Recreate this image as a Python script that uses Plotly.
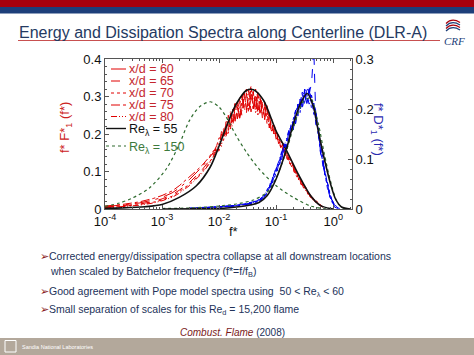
import plotly.graph_objects as go

# ---------------- data ----------------
# scaled frequency f* for the measured energy spectra (left axis, red)
F_RED = [1e-4, 2e-4, 4e-4, 7e-4, 1e-3, 1.5e-3, 2e-3, 3e-3, 4e-3, 5e-3, 6.5e-3, 8e-3,
         0.0100, 0.0110, 0.0120, 0.0132, 0.0145, 0.0158, 0.0174, 0.0191, 0.0209, 0.0229,
         0.0251, 0.0275, 0.0302, 0.0331, 0.0363, 0.0398, 0.0437, 0.0479, 0.0525, 0.0575,
         0.0631, 0.0692, 0.0759, 0.0832, 0.0912,
         0.100, 0.110, 0.120, 0.132, 0.145, 0.158, 0.174, 0.191, 0.209, 0.229, 0.251,
         0.275, 0.302, 0.331, 0.363, 0.398, 0.437, 0.479,
         0.55, 0.65]

R60 = [0.006, 0.010, 0.016, 0.024, 0.031, 0.043, 0.056, 0.078, 0.097, 0.112, 0.133, 0.152,
       .182, .174, .210, .198, .240, .220, .268, .234, .280, .242, .303, .263, .310, .255, .309,
       .267, .320, .256, .294, .246, .283, .228, .251, .205, .222,
       .186, .196, .164, .175, .144, .150, .119, .124, .097, .101, .076, .077, .056, .057, .039,
       .039, .025, .025,
       .013, .006]
R65 = [0.005, 0.008, 0.013, 0.020, 0.027, 0.038, 0.050, 0.070, 0.090, 0.104, 0.126, 0.148,
       .160, .200, .189, .228, .205, .256, .233, .280, .240, .297, .248, .313, .262, .317, .259,
       .317, .267, .306, .246, .288, .243, .270, .216, .238, .200,
       .210, .176, .185, .154, .162, .132, .137, .109, .112, .087, .089, .065, .066, .048, .047,
       .032, .031, .020,
       .012, .005]
R70 = [0.004, 0.007, 0.012, 0.018, 0.024, 0.034, 0.046, 0.066, 0.084, 0.099, 0.120, 0.142,
       .190, .187, .183, .233, .230, .212, .261, .282, .245, .277, .308, .268, .257, .305, .327,
       .272, .295, .311, .256, .280, .286, .236, .256, .215, .225,
       .193, .198, .164, .169, .162, .128, .132, .126, .096, .098, .089, .065, .065, .057, .039,
       .038, .030, .019,
       .014, .008]
R75 = [0.008, 0.012, 0.019, 0.028, 0.036, 0.048, 0.062, 0.084, 0.102, 0.116, 0.136, 0.156,
       .155, .207, .200, .190, .250, .227, .221, .278, .272, .239, .293, .310, .264, .275, .323,
       .263, .300, .251, .301, .276, .238, .278, .226, .208, .228,
       .206, .174, .180, .173, .142, .145, .120, .125, .108, .086, .088, .076, .056, .055, .047,
       .031, .030, .025,
       .015, .007]
R80 = [0.003, 0.006, 0.010, 0.016, 0.022, 0.031, 0.042, 0.062, 0.080, 0.095, 0.117, 0.140,
       .175, .167, .217, .203, .202, .260, .231, .267, .285, .247, .261, .303, .320, .263, .297,
       .313, .255, .293, .298, .242, .273, .256, .218, .243, .198,
       .207, .190, .164, .171, .146, .151, .123, .110, .112, .097, .076, .076, .065, .048, .046,
       .037, .025, .024,
       .012, .006]

# scaled frequency f* for the measured dissipation spectra (right axis, blue)
F_BLUE = [0.003, 0.005, 0.008, 0.012, 0.018, 0.025, 0.035, 0.045,
          0.0500, 0.0550, 0.0603, 0.0661, 0.0724, 0.0794, 0.0871, 0.0955, 0.105, 0.115,
          0.126, 0.138, 0.151, 0.166, 0.182, 0.200, 0.219, 0.240, 0.263, 0.288, 0.316,
          0.347, 0.380, 0.417, 0.457, 0.501, 0.550, 0.603, 0.661, 0.724, 0.794, 0.871,
          0.955, 1.05,
          1.15, 1.30]

B60 = [.001, .002, .004, .005, .007, .009, .013, .016,
       .019, .017, .028, .027, .043, .043, .064, .065, .089, .089, .115, .113, .142, .137, .169,
       .160, .198, .185, .220, .200, .236, .210, .240, .200, .212, .170, .160, .112, .099, .062,
       .051, .024, .018, .005,
       .003, .001]
B65 = [.000, .002, .003, .004, .006, .008, .010, .013,
       .014, .022, .021, .034, .034, .052, .053, .077, .076, .103, .099, .130, .122, .157, .145,
       .185, .170, .210, .193, .232, .205, .245, .232, .250, .320, .168, .162, .110, .100, .061,
       .052, .024, .018, .005,
       .002, .000]
B70 = [.002, .003, .003, .005, .007, .009, .012, .015,
       .017, .023, .022, .032, .044, .044, .062, .078, .078, .098, .117, .115, .138, .157, .149,
       .180, .196, .187, .212, .234, .213, .238, .244, .208, .211, .195, .144, .132, .102, .064,
       .054, .034, .013, .011,
       .004, .001]
B75 = [.001, .001, .003, .004, .005, .008, .011, .014,
       .015, .021, .027, .028, .042, .049, .054, .076, .086, .089, .115, .126, .122, .155, .165,
       .158, .196, .204, .193, .230, .232, .210, .240, .222, .189, .192, .156, .110, .098, .072,
       .041, .032, .017, .004,
       .002, .000]
B80 = [.001, .002, .003, .004, .006, .008, .011, .014,
       .018, .018, .026, .033, .035, .051, .060, .065, .088, .099, .100, .129, .137, .135, .169,
       .176, .171, .208, .212, .202, .240, .232, .208, .228, .205, .168, .160, .128, .084, .074,
       .050, .024, .019, .009,
       .004, .001]

# Pope model spectra
F_E55 = [1e-4, 2e-4, 5e-4, 1e-3, 2e-3, 4e-3, 7e-3, 0.01, 0.015, 0.02, 0.03, 0.04, 0.06,
         0.1, 0.15, 0.25, 0.4, 0.6, 1.0]
E55 = [0.002, 0.003, 0.006, 0.012, 0.031, 0.062, 0.112, 0.168, 0.238, 0.280, 0.316, 0.318,
       0.290, 0.208, 0.158, 0.090, 0.036, 0.009, 0.0]
F_E150 = [1e-4, 1.8e-4, 3e-4, 6e-4, 1.2e-3, 2e-3, 3e-3, 4.5e-3, 7e-3, 1e-2, 1.3e-2, 2e-2,
          3e-2, 5e-2, 0.1, 0.2, 0.4, 0.7, 1.0]
E150 = [0.007, 0.016, 0.029, 0.056, 0.108, 0.172, 0.235, 0.272, 0.286, 0.272, 0.248, 0.195,
        0.152, 0.107, 0.062, 0.031, 0.008, 0.001, 0.0]
F_D55 = [1e-3, 0.005, 0.01, 0.02, 0.035, 0.05, 0.07, 0.1, 0.15, 0.2, 0.27, 0.35, 0.45,
         0.55, 0.7, 0.9, 1.1, 1.4, 2.0]
D55 = [0.0, 0.0005, 0.001, 0.004, 0.008, 0.013, 0.027, 0.060, 0.118, 0.170, 0.212, 0.231,
       0.205, 0.155, 0.100, 0.050, 0.020, 0.004, 0.0]
F_D150 = [1e-3, 3e-3, 0.006, 0.01, 0.02, 0.04, 0.07, 0.1, 0.15, 0.2, 0.3, 0.4, 0.55, 0.7,
          0.9, 1.2, 1.6]
D150 = [0.001, 0.002, 0.004, 0.006, 0.010, 0.018, 0.034, 0.062, 0.115, 0.162, 0.215, 0.222,
        0.170, 0.110, 0.055, 0.012, 0.0]

SERIES_LABELS = ["x/d = 60", "x/d = 65", "x/d = 70", "x/d = 75", "x/d = 80"]
MODEL_LABELS = ["Re<sub>λ</sub> = 55", "Re<sub>λ</sub> = 150"]
X_TICKS = [1e-4, 1e-3, 1e-2, 1e-1, 1]
X_TICK_TEXT = ["10<sup>-4</sup>", "10<sup>-3</sup>", "10<sup>-2</sup>",
               "10<sup>-1</sup>", "10<sup>0</sup>"]
Y_TICKS = [0, 0.1, 0.2, 0.3, 0.4]
Y_TICK_TEXT = ["0", "0.1", "0.2", "0.3", "0.4"]
Y2_TICKS = [0, 0.1, 0.2, 0.3]
Y2_TICK_TEXT = ["0", "0.1", "0.2", "0.3"]

for arr in (R60, R65, R70, R75, R80):
    assert len(arr) == len(F_RED), len(arr)
for arr in (B60, B65, B70, B75, B80):
    assert len(arr) == len(F_BLUE), len(arr)

# ---------------- styling ----------------
W, H = 474, 355
ML, MR, MT, MB = 105, 122, 59, 146
PW, PH = W - ML - MR, H - MT - MB


def px(x):
    return (x - ML) / PW


def py(y):
    return (H - MB - y) / PH


FONT = "Liberation Sans, Arial, sans-serif"
RED = "#e00000"
BLUE = "#0000ee"
GREEN = "#2e6b2e"
DASHES = ["longdashdot", "dash", "dot", "dashdot", "6px,2px,1px,2px,1px,2px"]

fig = go.Figure()

for ys, dash in zip([R60, R65, R70, R75, R80], DASHES):
    fig.add_trace(go.Scatter(x=F_RED, y=ys, mode="lines",
                             line=dict(color=RED, width=1, dash=dash),
                             showlegend=False, yaxis="y"))
for ys, dash in zip([B60, B65, B70, B75, B80], DASHES):
    fig.add_trace(go.Scatter(x=F_BLUE, y=ys, mode="lines",
                             line=dict(color=BLUE, width=1, dash=dash),
                             showlegend=False, yaxis="y2"))

fig.add_trace(go.Scatter(x=F_D150, y=D150, mode="lines", yaxis="y2", showlegend=False,
                         line=dict(color=GREEN, width=1.2, dash="dot", shape="spline", smoothing=0.8)))
fig.add_trace(go.Scatter(x=F_E150, y=E150, mode="lines", yaxis="y", showlegend=False,
                         line=dict(color=GREEN, width=1.2, dash="dot", shape="spline", smoothing=0.8)))
fig.add_trace(go.Scatter(x=F_D55, y=D55, mode="lines", yaxis="y2", showlegend=False,
                         line=dict(color="#111111", width=1.6, shape="spline", smoothing=0.8)))
fig.add_trace(go.Scatter(x=F_E55, y=E55, mode="lines", yaxis="y", showlegend=False,
                         line=dict(color="#111111", width=1.6, shape="spline", smoothing=0.8)))

AX = "#555555"
fig.update_layout(
    width=W, height=H,
    margin=dict(l=ML, r=MR, t=MT, b=MB, pad=0),
    paper_bgcolor="white", plot_bgcolor="white",
    font=dict(family=FONT, size=13, color="#111111"),
    showlegend=False,
    xaxis=dict(type="log", range=[-4, 0.33], tickvals=X_TICKS, ticktext=X_TICK_TEXT,
               showgrid=False, zeroline=False, showline=True, linecolor=AX, linewidth=1,
               mirror="ticks", ticks="inside", ticklen=4, tickcolor=AX,
               minor=dict(ticks="inside", ticklen=2, tickcolor=AX, dtick="D1", showgrid=False),
               tickfont=dict(size=13)),
    yaxis=dict(range=[0, 0.4], tickvals=Y_TICKS, ticktext=Y_TICK_TEXT,
               showgrid=False, zeroline=False, showline=True, linecolor=AX, linewidth=1,
               ticks="inside", ticklen=4, tickcolor=AX,
               minor=dict(ticks="inside", ticklen=2, tickcolor=AX, dtick=0.02, showgrid=False),
               tickfont=dict(size=13)),
    yaxis2=dict(range=[0, 0.3], tickvals=Y2_TICKS, ticktext=Y2_TICK_TEXT, overlaying="y",
                side="right", showgrid=False, zeroline=False, showline=True, linecolor=AX,
                linewidth=1, ticks="inside", ticklen=4, tickcolor=AX,
                minor=dict(ticks="inside", ticklen=2, tickcolor=AX, dtick=0.02, showgrid=False),
                tickfont=dict(size=13)),
)

shapes = []
annos = []


def rect(x0, y0, x1, y1, color, line=None):
    shapes.append(dict(type="rect", xref="paper", yref="paper", x0=px(x0), x1=px(x1),
                       y0=py(y0), y1=py(y1), fillcolor=color,
                       line=dict(width=0) if line is None else line, layer="below"))


def text(x, y, s, size=10.5, color="#22325a", xanchor="left", angle=0, family=FONT):
    annos.append(dict(xref="paper", yref="paper", x=px(x), y=py(y), text=s, showarrow=False,
                      xanchor=xanchor, yanchor="middle", textangle=angle,
                      font=dict(size=size, color=color, family=family)))


# slide decorations
rect(0, 0, W, 7, "#a8000c")
rect(0, 7, W, 13.5, "#1d3f7a")
shapes.append(dict(type="line", xref="paper", yref="paper", x0=px(18), x1=px(440),
                   y0=py(40.5), y1=py(40.5), line=dict(color="#c85050", width=1)))
rect(0, 338, W, H, "#b3a89b")
shapes.append(dict(type="rect", xref="paper", yref="paper", x0=px(5), x1=px(16),
                   y0=py(340.5), y1=py(352), line=dict(color="white", width=1),
                   fillcolor="rgba(0,0,0,0)"))
# CRF logo swooshes
for i, c in enumerate(["#1d3f7a", "#a8000c", "#1d3f7a", "#a8000c"]):
    y0 = 31 - i * 2.5
    shapes.append(dict(type="path", xref="paper", yref="paper",
                       path=f"M {px(446)},{py(y0)} Q {px(452)},{py(y0 - 6)} {px(460)},{py(y0 - 1)}",
                       line=dict(color=c, width=1.2)))

text(223, 32, "Energy and Dissipation Spectra along Centerline (DLR-A)", size=16,
     color="#243a62", xanchor="center")
text(454, 41, "<i>CRF</i>", size=11, color="#1d3f7a", xanchor="center",
     family="Liberation Serif, Times New Roman, serif")

# axis titles
text(233, 231, "f*", size=13, color="#111111", xanchor="center")
text(65, 128, "f* F*<sub>1</sub> (f*)", size=13, color="#cc2222", xanchor="center", angle=-90)
text(378, 129, "f* D*<sub>1</sub> (f*)", size=13, color="#2a2ab0", xanchor="center", angle=90)

# legend (drawn by hand to match the compact spacing)
LEG_ROWS = [69, 81, 93, 105, 116.5, 128.5, 146]
for i, (lab, dash) in enumerate(zip(SERIES_LABELS, DASHES)):
    shapes.append(dict(type="line", xref="paper", yref="paper", x0=px(111), x1=px(126),
                       y0=py(LEG_ROWS[i]), y1=py(LEG_ROWS[i]),
                       line=dict(color=RED, width=1, dash=dash)))
    text(127, LEG_ROWS[i], lab, size=12.5, color="#c4262e")
shapes.append(dict(type="line", xref="paper", yref="paper", x0=px(106), x1=px(126),
                   y0=py(LEG_ROWS[5]), y1=py(LEG_ROWS[5]), line=dict(color="#111111", width=1.4)))
text(127, LEG_ROWS[5] + 1.5, MODEL_LABELS[0], size=12.5, color="#111111")
shapes.append(dict(type="line", xref="paper", yref="paper", x0=px(106), x1=px(126),
                   y0=py(LEG_ROWS[6]), y1=py(LEG_ROWS[6]),
                   line=dict(color=GREEN, width=1.2, dash="dot")))
text(127, LEG_ROWS[6] + 1.5, MODEL_LABELS[1], size=12.5, color="#3d7a3d")

# bullet text
ARROW = "<span style='color:#8a1a1a'>➢</span>"
text(38, 256, ARROW + "Corrected energy/dissipation spectra collapse at all downstream locations",
     size=10.5)
text(48, 272, "when scaled by Batchelor frequency (f*=f/f<sub>B</sub>)", size=10.5)
text(38, 292, ARROW + "Good agreement with Pope model spectra using  50 &lt; Re<sub>λ</sub> &lt; 60",
     size=10.5)
text(38, 310, ARROW + "Small separation of scales for this Re<sub>d</sub> = 15,200 flame", size=10.5)
text(232, 332, "<i><span style='color:#7a1a1a'>Combust. Flame</span></i> (2008)", size=10,
     xanchor="center")
text(20, 346.5, "Sandia National Laboratories", size=5.5, color="white")

fig.update_layout(shapes=shapes, annotations=annos)
fig.write_html("out.html", config={"displayModeBar": False, "staticPlot": True},
               post_script="document.body.style.margin='0';document.body.style.overflow='hidden';")
